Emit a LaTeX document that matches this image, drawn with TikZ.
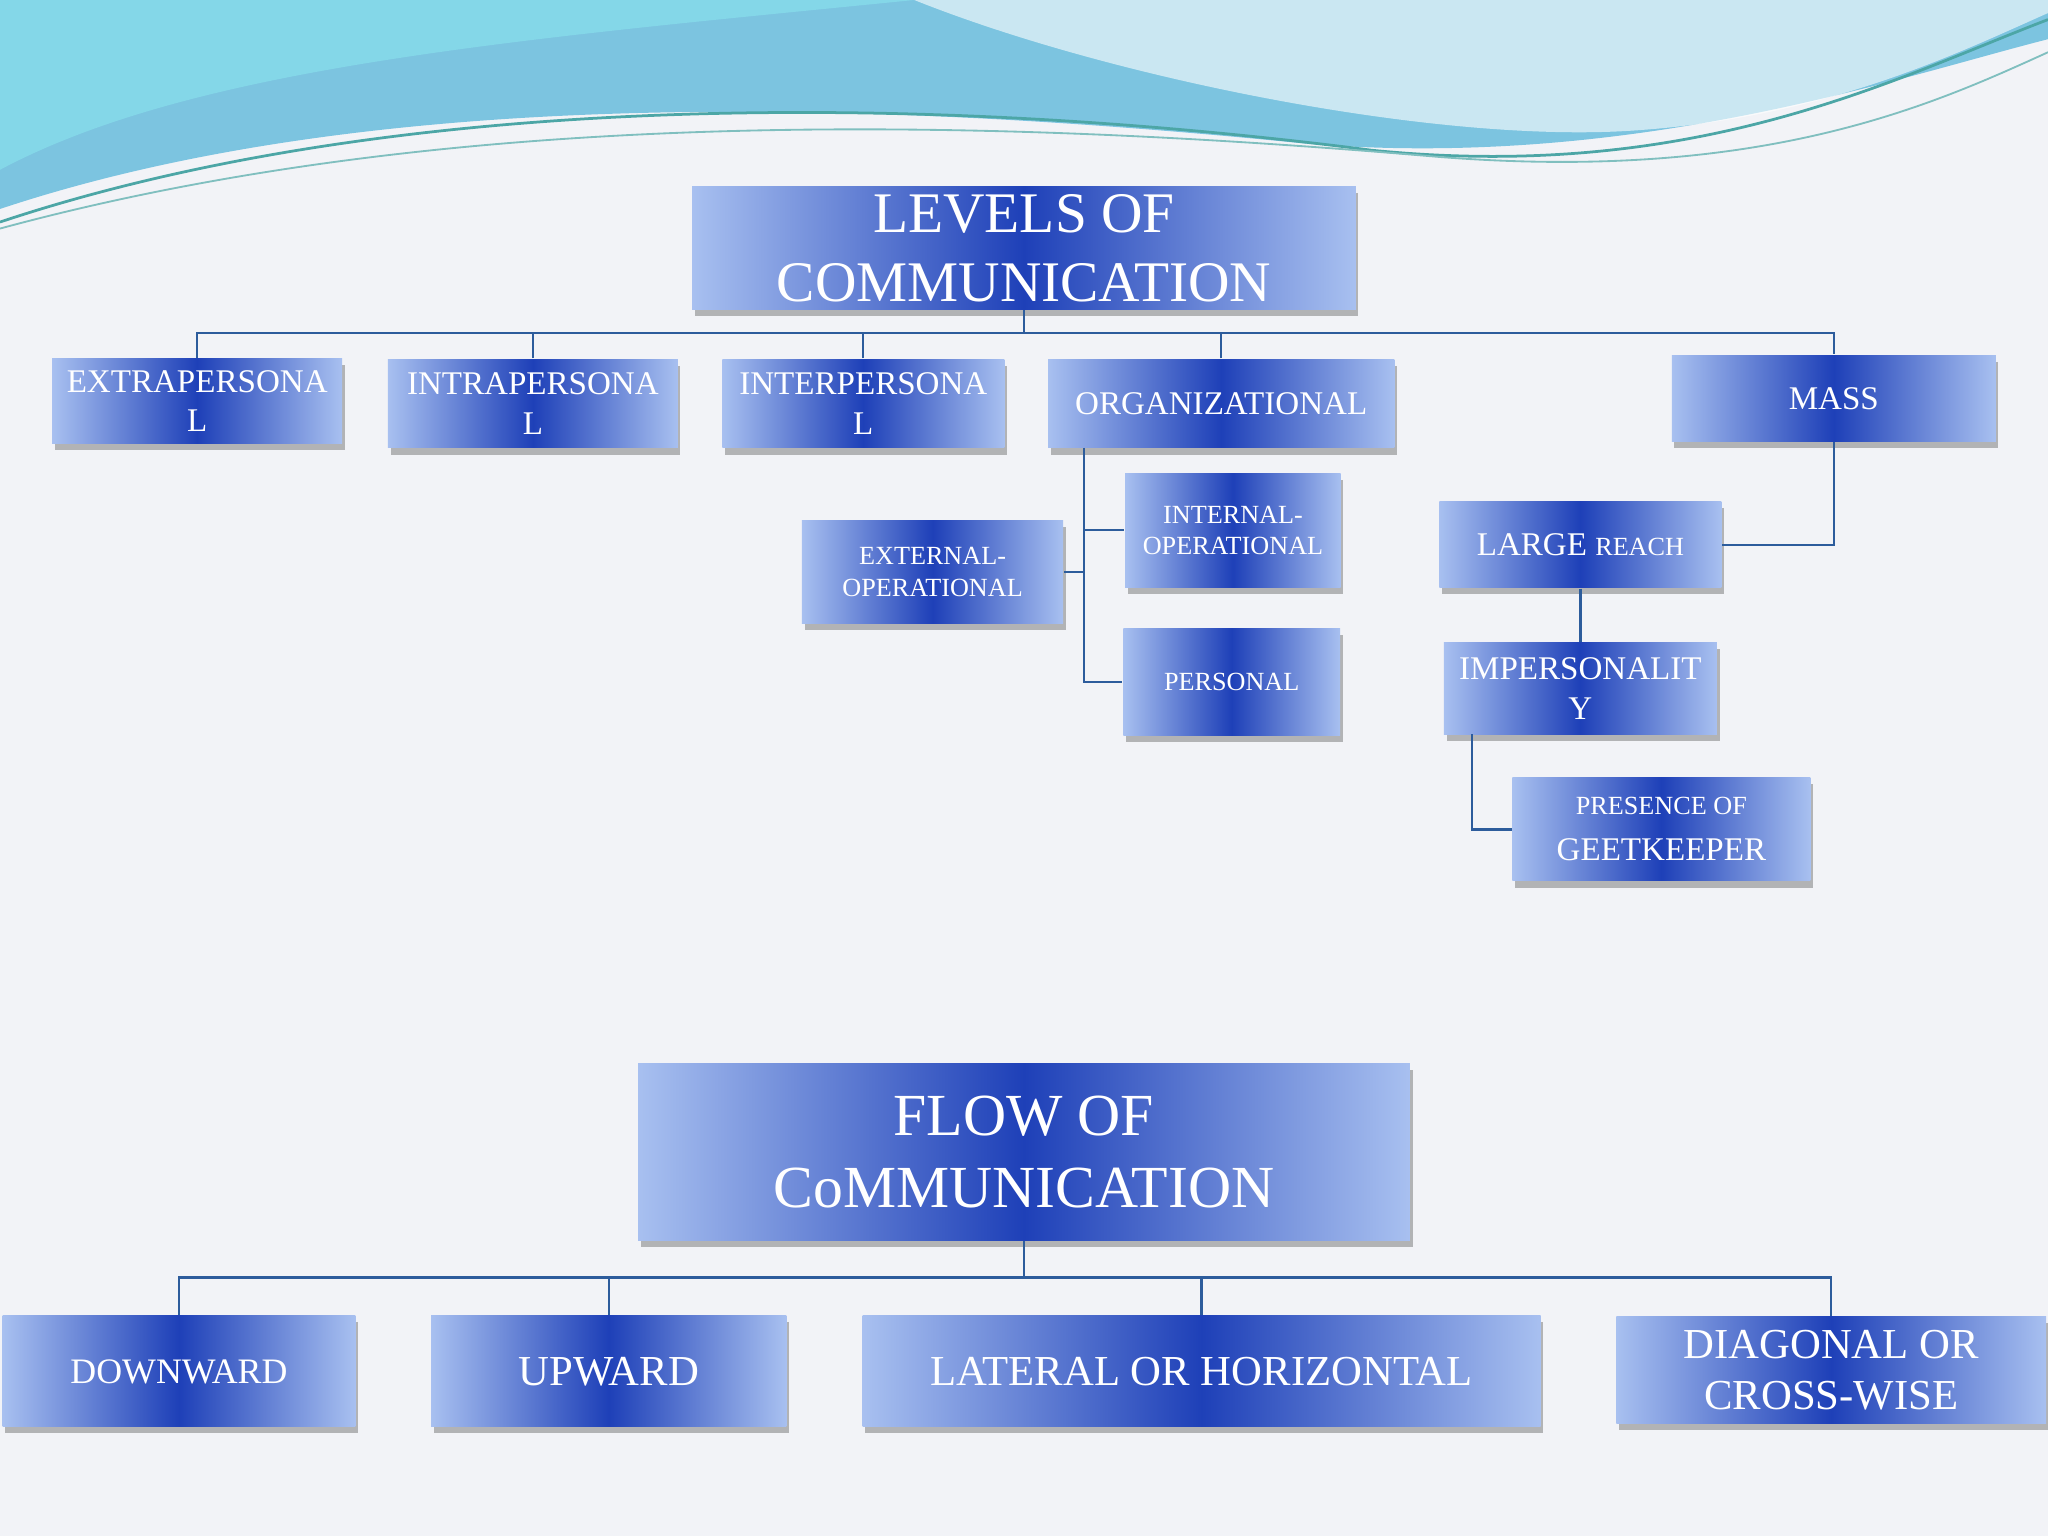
\documentclass[tikz,border=0pt]{standalone}
\usepackage{fontspec}
\setmainfont{Liberation Serif}
\usetikzlibrary{shadows}
\definecolor{bg}{HTML}{F2F3F7}
\definecolor{boxdark}{HTML}{1E40B8}
\definecolor{boxlight}{HTML}{A8C0F0}
\definecolor{lnc}{HTML}{2D5C9C}
\definecolor{wa}{HTML}{86DCEA}
\definecolor{wb}{HTML}{7CC4E0}
\tikzset{
 bx/.style={draw=none,left color=boxlight,right color=boxlight,middle color=boxdark,
   text=white,align=center,inner sep=0pt,
   drop shadow={opacity=0.45,shadow xshift=0.02cm,shadow yshift=-0.05cm,fill=black!60}},
 sz/.style 2 args={minimum width=#1*0.01cm,minimum height=#2*0.01cm},
 ln/.style={draw=lnc,line width=0.5pt},
 fs/.style={font=\fontsize{#1}{1.2\dimexpr #1pt\relax}\selectfont}
}
\begin{document}
\begin{tikzpicture}[x=0.01cm,y=-0.01cm]
\useasboundingbox (0,0) rectangle (1568,1176);
\fill[bg] (0,0) rectangle (1568,1176);
% top waves
\fill[wb] (0,0) -- (0,160) .. controls (300,60) and (700,80) .. (1000,110) .. controls (1250,130) and (1450,60) .. (1568,30) -- (1568,0) -- cycle;
\fill[wa,opacity=0.8] (0,130) .. controls (150,50) and (400,30) .. (700,0) -- (0,0) -- cycle;
\fill[white,opacity=0.6] (700,0) .. controls (850,60) and (1100,110) .. (1250,100) .. controls (1400,90) and (1500,40) .. (1568,10) -- (1568,0) -- cycle;
\draw[teal!70,line width=0.6pt] (0,170) .. controls (300,70) and (700,70) .. (1050,115) .. controls (1300,140) and (1450,60) .. (1568,15);
\draw[teal!50,line width=0.4pt] (0,175) .. controls (350,80) and (750,90) .. (1100,120) .. controls (1350,140) and (1480,80) .. (1568,40);

\node[bx,sz={508}{94},fs=12.5] (lev) at (784,190) {LEVELS OF\\COMMUNICATION};
\node[bx,sz={222}{65},fs=7.2] (ext) at (151,307) {EXTRAPERSONA\\L};
\node[bx,sz={222}{68},fs=7.2] (intra) at (408,309) {INTRAPERSONA\\L};
\node[bx,sz={216}{68},fs=7.2] (inter) at (661,309) {INTERPERSONA\\L};
\node[bx,sz={265}{68},fs=7.2] (org) at (935,309) {ORGANIZATIONAL};
\node[bx,sz={248}{66},fs=7.2] (mass) at (1404,305) {MASS};
\node[bx,sz={165}{87},fs=5.7] (intop) at (944,406) {INTERNAL-\\OPERATIONAL};
\node[bx,sz={200}{79},fs=5.7] (extop) at (714,438) {EXTERNAL-\\OPERATIONAL};
\node[bx,sz={166}{82},fs=5.7] (pers) at (943,522) {PERSONAL};
\node[bx,sz={216}{66},fs=7.2] (large) at (1210,417) {LARGE {\fontsize{5.7}{6}\selectfont REACH}};
\node[bx,sz={209}{70},fs=7.2] (imp) at (1210,527) {IMPERSONALIT\\Y};
\node[bx,sz={228}{79}] (pres) at (1272,635) {{\fontsize{5.7}{6.6}\selectfont PRESENCE OF}\\[-2pt]{\fontsize{7.2}{8}\selectfont GEETKEEPER}};

\node[bx,sz={591}{135},fs=13] (flow) at (784,882) {FLOW OF\\CoMMUNICATION};
\node[bx,sz={270}{85},fs=7.8] (down) at (137,1050) {DOWNWARD};
\node[bx,sz={272}{85},fs=9.3] (up) at (466,1050) {UPWARD};
\node[bx,sz={519}{85},fs=9.3] (lat) at (920,1050) {LATERAL OR HORIZONTAL};
\node[bx,sz={329}{82},fs=9.3] (diag) at (1402,1049) {DIAGONAL OR\\CROSS-WISE};

\coordinate (bar1) at (784,255);
\draw[ln] (lev.south) -- (bar1);
\draw[ln] (ext.north) |- (mass.north |- bar1) -- (mass.north);
\foreach \n in {intra,inter,org} \draw[ln] (\n.north) -- (\n.north |- bar1);
\coordinate (ov) at (830,343);
\draw[ln] (ov) |- (pers.west);
\draw[ln] (ov |- intop.west) -- (intop.west);
\draw[ln] (extop.east) -- (ov |- extop.east);
\draw[ln] (mass.south) |- (large.east);
\draw[ln] (large.south) -- (imp.north);
\coordinate (iv) at (1127,562);
\draw[ln] (iv) |- (pres.west);
\coordinate (bar2) at (784,978);
\draw[ln] (flow.south) -- (bar2);
\draw[ln] (down.north) |- (diag.north |- bar2) -- (diag.north);
\foreach \n in {up,lat} \draw[ln] (\n.north) -- (\n.north |- bar2);
\end{tikzpicture}
\end{document}
